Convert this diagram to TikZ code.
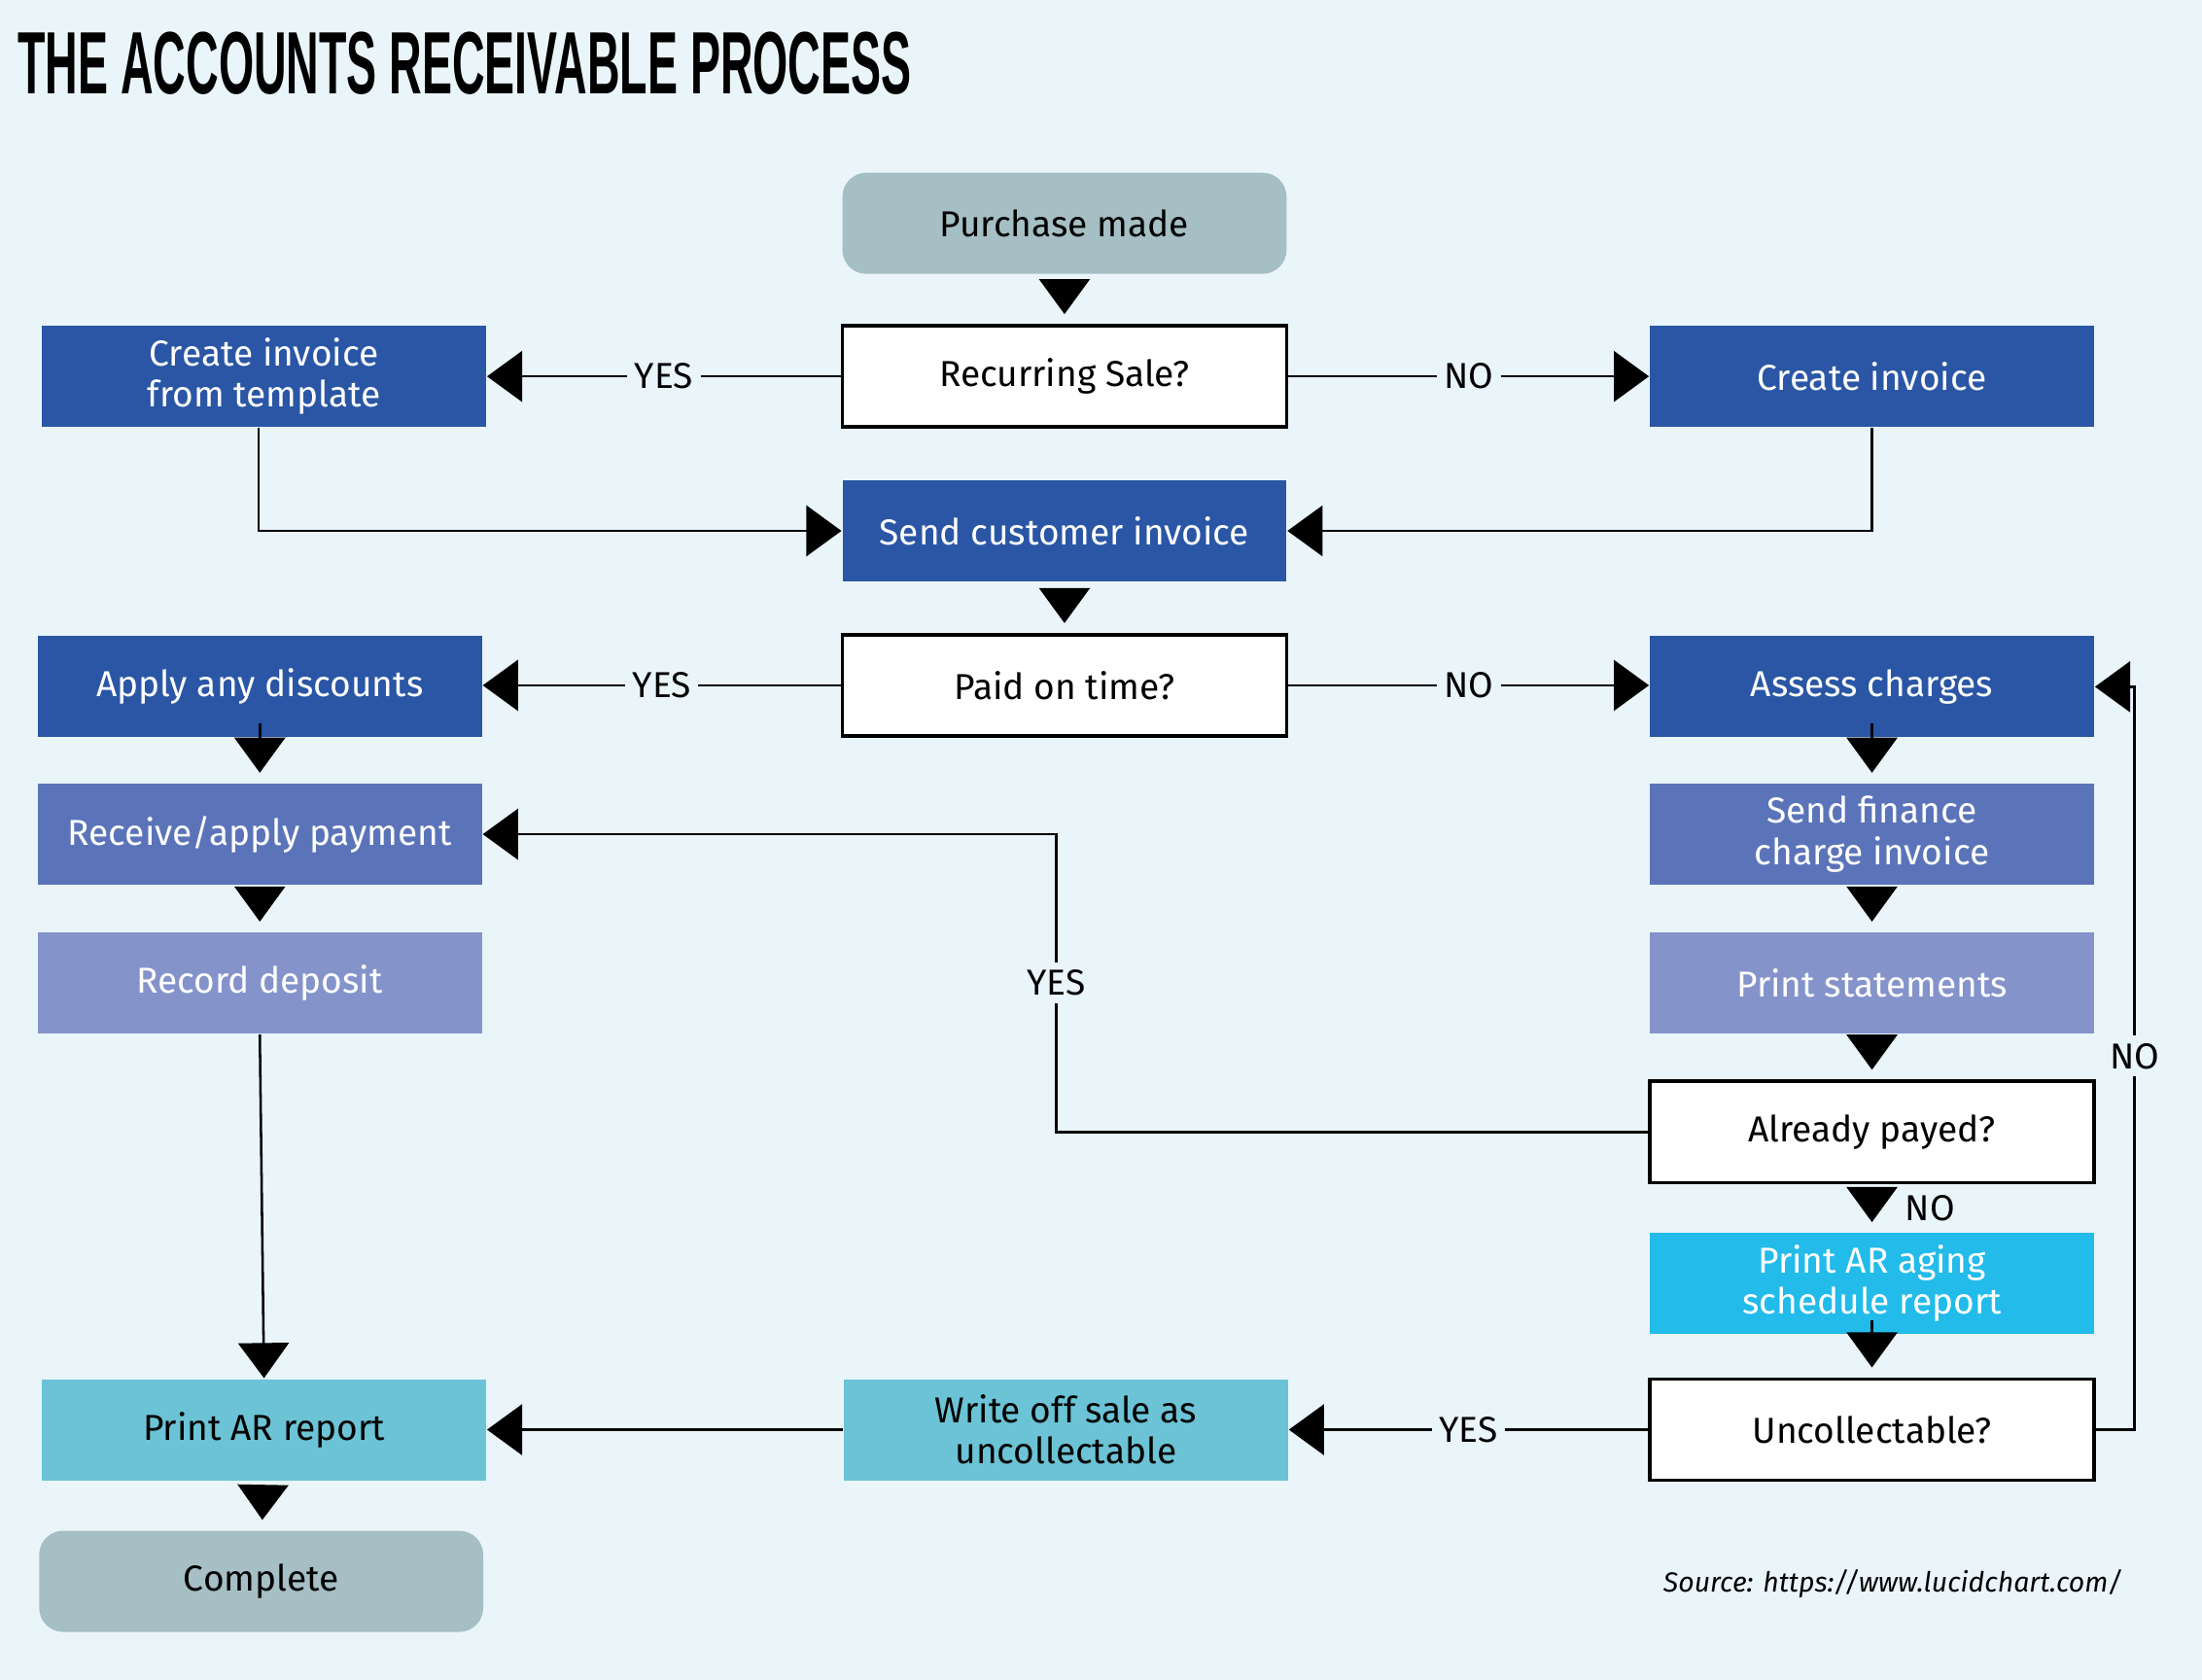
\documentclass[tikz,border=0pt]{standalone}
\usepackage{fontspec}
\setmainfont{Fira Sans}
\newfontfamily\titlefont{Liberation Sans}
\usetikzlibrary{arrows.meta}
\definecolor{bgc}{HTML}{EAF5FA}
\definecolor{darkb}{HTML}{2A56A5}
\definecolor{midb}{HTML}{5B74B9}
\definecolor{lightb}{HTML}{8593CB}
\definecolor{cyanb}{HTML}{22BBEA}
\definecolor{tealb}{HTML}{6CC3D5}
\definecolor{grayb}{HTML}{A5BFC4}
\tikzset{
  box/.style={minimum width=3.16cm, minimum height=0.72cm, align=center, inner sep=0pt,
    font=\fontsize{7.3}{8.3}\selectfont},
  term/.style={box, fill=grayb, rounded corners=0.17cm},
  ask/.style={box, fill=white, draw=black, line width=0.7pt},
  step/.style={box, fill=#1, text=white},
  flow/.style={line width=0.5pt, -{Triangle[width=0.36cm,length=0.25cm]}},
  lbl/.style={fill=bgc, inner sep=1.5pt, font=\fontsize{7.3}{8.3}\selectfont}
}
\begin{document}
\begin{tikzpicture}[x=0.01cm,y=-0.01cm]

        % Background
        \fill[bgc] (0,0) rectangle (1568,1196);
        \useasboundingbox (0,0) rectangle (1568,1196);

        % Title
        \node[anchor=north west, inner sep=0pt] (title) at (12,22)
          {\resizebox{6.36cm}{0.44cm}{\titlefont\bfseries THE ACCOUNTS RECEIVABLE PROCESS}};

        % Middle column
        \node[term] (purchase) at (758,159) {Purchase made};
        \node[ask] (recur) at (758,268) {Recurring Sale?};
        \node[step=darkb] (send) at (758,378) {Send customer invoice};
        \node[ask] (paid) at (758,488) {Paid on time?};
        \node[step=tealb, text=black] (writeoff) at (759,1018) {Write off sale as\\uncollectable};

        % Left column
        \node[step=darkb] (tmpl) at (188,268) {Create invoice\\from template};
        \node[step=darkb] (disc) at (185,489) {Apply any discounts};
        \node[step=midb] (receive) at (185,594) {Receive/apply payment};
        \node[step=lightb] (deposit) at (185,700) {Record deposit};
        \node[step=tealb, text=black] (report) at (188,1018) {Print AR report};
        \node[term] (complete) at (186,1126) {Complete};

        % Right column
        \node[step=darkb] (create) at (1333,268) {Create invoice};
        \node[step=darkb] (assess) at (1333,489) {Assess charges};
        \node[step=midb] (finance) at (1333,594) {Send finance\\charge invoice};
        \node[step=lightb] (stmt) at (1333,700) {Print statements};
        \node[ask] (payed) at (1333,806) {Already payed?};
        \node[step=cyanb] (aging) at (1333,914) {Print AR aging\\schedule report};
        \node[ask] (uncoll) at (1333,1018) {Uncollectable?};

        % Vertical steps
        \draw[flow, shorten <=3pt, shorten >=2pt] (purchase) -- (recur);
        \draw[flow, shorten <=3pt, shorten >=2pt] (send) -- (paid);
        \draw[flow, shorten <=3pt, shorten >=2pt] (disc) -- (receive);
        \draw[flow, shorten <=3pt, shorten >=2pt] (receive) -- (deposit);
        \draw[flow, shorten <=3pt, shorten >=2pt] (report) -- (complete);
        \draw[flow, shorten <=3pt, shorten >=2pt] (assess) -- (finance);
        \draw[flow, shorten <=3pt, shorten >=2pt] (finance) -- (stmt);
        \draw[flow, shorten <=3pt, shorten >=2pt] (stmt) -- (payed);
        \draw[flow, shorten <=3pt, shorten >=2pt] (payed) -- (aging)
          node[midway, right=5pt, lbl, fill=none] {NO};
        \draw[flow, shorten <=3pt, shorten >=2pt] (aging) -- (uncoll);

        % Decisions
        \draw[flow] (recur) -- (tmpl) node[midway, lbl] {YES};
        \draw[flow] (recur) -- (create) node[midway, lbl] {NO};
        \draw[flow] (paid.west) -- (disc.east |- paid.west) node[midway, lbl] {YES};
        \draw[flow] (paid.east) -- (assess.west |- paid.east) node[midway, lbl] {NO};
        \draw[flow] (uncoll) -- (writeoff) node[midway, lbl] {YES};
        \draw[flow] (writeoff) -- (report);

        % Loops
        \draw[flow] (tmpl.south -| 184,0) |- (send.west);
        \draw[flow] (create.south) |- (send.east);
        \draw[flow] (payed.west) -| (752,700) node[lbl] {YES} |- (receive.east);
        \draw[flow] (deposit.south) -- (report.north);
        \draw[flow] (uncoll.east) -| (1520,752) node[lbl] {NO} |- (assess.east);

        % Source
        \node[anchor=east, inner sep=0pt, font=\fontsize{5.6}{6}\selectfont\itshape] (src)
          at (1512,1128) {Source: https://www.lucidchart.com/};

\end{tikzpicture}
\end{document}
